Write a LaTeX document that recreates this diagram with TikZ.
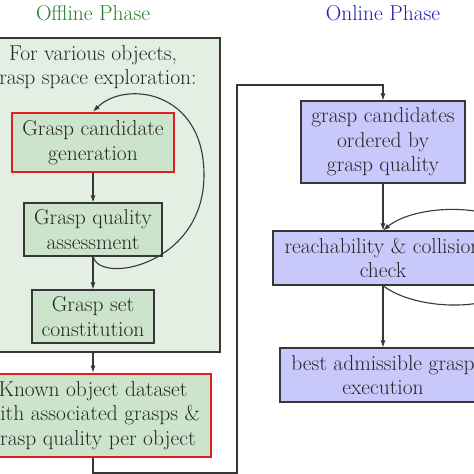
\documentclass[tikz,border=0pt]{standalone}
\usetikzlibrary{arrows.meta}
\definecolor{panelgreen}{RGB}{228,239,228}
\definecolor{boxgreen}{RGB}{204,228,204}
\definecolor{boxblue}{RGB}{200,200,250}
\definecolor{redframe}{RGB}{225,30,30}
\definecolor{linegray}{RGB}{55,55,55}
\definecolor{offgreen}{RGB}{40,125,40}
\definecolor{onblue}{RGB}{30,30,185}
\begin{document}
\begin{tikzpicture}[x=1pt,y=-1pt,
  every node/.style={font=\fontsize{21.5}{24.5}\selectfont, align=center, inner sep=0pt, text=black!85},
  gbox/.style={draw=linegray, line width=1.1pt, fill=boxgreen},
  rbox/.style={draw=redframe, line width=2.6pt, fill=boxgreen},
  bbox/.style={draw=linegray, line width=1.1pt, fill=boxblue},
  conn/.style={draw=linegray, line width=1.1pt, -{Latex[length=7pt,width=5pt]}},
  plain/.style={draw=linegray, line width=1.1pt}]
\useasboundingbox (0,0) rectangle (474,474);
\clip (0,0) rectangle (474,474);
\fill[white] (0,0) rectangle (474,474);
% titles
\node[text=offgreen] (offt) at (93,13) {Offline Phase};
\node[text=onblue] (ont) at (383,13) {Online Phase};
% offline panel
\node[draw=linegray, line width=1.1pt, fill=panelgreen, minimum width=254pt, minimum height=314pt] (panel) at (93,195) {};
\node (intro) at (93,67) {For various objects,\\grasp space exploration:};
\node[rbox, minimum width=162pt, minimum height=59pt] (gen) at (93,142.5) {Grasp candidate\\generation};
\node[gbox, minimum width=138pt, minimum height=53pt] (qual) at (93,229.5) {Grasp quality\\assessment};
\node[gbox, minimum width=122pt, minimum height=53pt] (set) at (93,316.5) {Grasp set\\constitution};
\node[rbox, minimum width=236pt, minimum height=83pt] (data) at (93,415.5) {Known object dataset\\with associated grasps \&\\grasp quality per object};
\draw[conn] (gen) -- (qual);
\draw[conn] (qual) -- (set);
\draw[conn] (panel.south) -- (data.north);
\coordinate (lr) at (204,175);
\draw[conn] (qual.south) .. controls (100,285) and (204,265) .. (lr)
  .. controls (204,90) and (125,80) .. (gen.north);
% online
\node[bbox, minimum width=164pt, minimum height=82pt] (cand) at (383,142) {grasp candidates\\ordered by\\grasp quality};
\node[bbox, minimum width=220pt, minimum height=54pt] (reach) at (383,258) {reachability \& collision\\check};
\node[bbox, minimum width=206pt, minimum height=54pt] (best) at (383,375) {best admissible grasp\\execution};
\draw[conn] (cand) -- (reach);
\draw[conn] (reach) -- (best);
\coordinate (rr) at (530,258);
\draw[conn] (reach.south) .. controls (420,315) and (530,315) .. (rr)
  .. controls (530,200) and (420,200) .. (reach.north);
% main connector
\coordinate (c1) at (237,473);
\coordinate (c2) at (237,85);
\draw[conn] (data.south) |- (c1) -- (c2) -| (cand.north);
\end{tikzpicture}
\end{document}
